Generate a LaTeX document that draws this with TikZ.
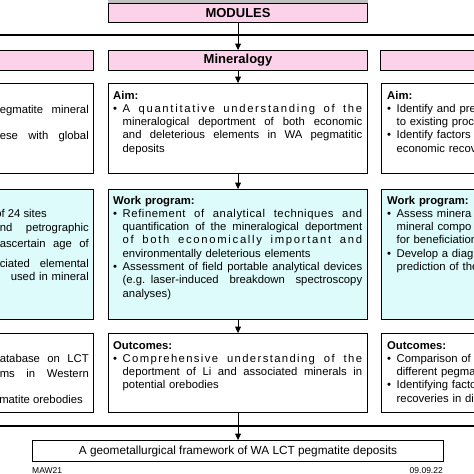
\documentclass[tikz,border=0pt]{standalone}
\usepackage{fontspec}
\setmainfont{Liberation Sans}
\usetikzlibrary{arrows.meta}
\definecolor{pinkfill}{RGB}{251,210,234}
\definecolor{cyanfill}{RGB}{221,251,251}
\definecolor{topgrey}{RGB}{192,192,192}
\setlength{\parindent}{0pt}
\newcommand\stretchspace{\spaceskip=0.278em plus 3em minus 0.05em\relax}
\newcommand\bitem[1]{\par\noindent\hangindent=9.5pt\hangafter=1\makebox[9.5pt][l]{\textbullet}#1}
\newcommand\sfrag[2]{{\stretchspace\hbox to #1pt{#2}}}
\newcommand\mbul[1]{\noindent\hbox to 9.5pt{\textbullet\hfil}{\stretchspace\hbox to 239.5pt{#1}}\par}
\newcommand\mjus[1]{\noindent\hbox to 9.5pt{\hfil}{\stretchspace\hbox to 239.5pt{#1}}\par}
\newcommand\mlast[1]{\noindent\hbox to 9.5pt{\hfil}#1\par}
\newcommand\spreadout[2]{{\addfontfeature{LetterSpace=#1}#2}}
\begin{document}
\begin{tikzpicture}[x=1pt,y=-1pt,
  box/.style={draw=black, line width=1.1pt, inner sep=0pt, anchor=north west},
  pinkbox/.style={box, fill=pinkfill, font=\fontsize{13}{15}\selectfont\bfseries},
  whitebox/.style={box, fill=white},
  cyanbox/.style={box, fill=cyanfill},
  arr/.style={line width=1.1pt, -{Triangle[length=6.5pt,width=6pt]}},
  rule/.style={line width=1.1pt},
  txt/.style={inner sep=0pt, font=\fontsize{11.3}{13.3}\selectfont, anchor=base west},
  midtxt/.style={txt, text width=249pt},
  sidetxt/.style={txt, text width=130pt, align=left},
  frag/.style={inner sep=0pt, font=\fontsize{11.3}{13.3}\selectfont, anchor=base east},
  small/.style={inner sep=0pt, font=\fontsize{8.5}{10}\selectfont}]
\useasboundingbox (0,0) rectangle (474,474);
\clip (0,0) rectangle (474,474);
\fill[topgrey] (107.5,-4) rectangle (367.5,3);
% horizontal rules
\coordinate (hl1) at (0,35);
\coordinate (hr1) at (474,35);
\coordinate (hl2) at (0,426);
\coordinate (hr2) at (474,426);
\draw[rule] (hl1) -- (hr1);
\draw[rule] (hl2) -- (hr2);
% boxes
\node[pinkbox, minimum width=259pt, minimum height=19pt] (modules) at (108,3) {MODULES};
\node[pinkbox, minimum width=103pt, minimum height=20pt] (pinkL) at (-10,50) {};
\node[pinkbox, minimum width=259pt, minimum height=20pt] (mineralogy) at (108,50) {Mineralogy};
\node[pinkbox, minimum width=110pt, minimum height=20pt] (pinkR) at (380,50) {};
\node[whitebox, minimum width=103pt, minimum height=90pt] (aimL) at (-10,83) {};
\node[whitebox, minimum width=259pt, minimum height=90pt] (aimM) at (108,83) {};
\node[whitebox, minimum width=110pt, minimum height=90pt] (aimR) at (381,83) {};
\node[cyanbox, minimum width=103pt, minimum height=130pt] (workL) at (-10,189) {};
\node[cyanbox, minimum width=259pt, minimum height=130pt] (workM) at (108,189) {};
\node[cyanbox, minimum width=110pt, minimum height=130pt] (workR) at (381,189) {};
\node[whitebox, minimum width=103pt, minimum height=79pt] (outL) at (-10,333) {};
\node[whitebox, minimum width=259pt, minimum height=79pt] (outM) at (108,333) {};
\node[whitebox, minimum width=110pt, minimum height=79pt] (outR) at (381,333) {};
\node[whitebox, minimum width=411pt, minimum height=21pt, font=\fontsize{11.8}{14}\selectfont] (frame) at (32,440) {A geometallurgical framework of WA LCT pegmatite deposits};
% arrows
\draw[arr] (modules.south) -- (mineralogy.north);
\draw[arr] (mineralogy.south) -- (aimM.north);
\draw[arr] (aimM.south) -- (workM.north);
\draw[arr] (workM.south) -- (outM.north);
\draw[arr] (outM.south) -- (frame.north);
% middle column text
\node[midtxt] (aimMtxt) at (113,99) {\noindent\textbf{Aim:}\par
  \mbul{\spreadout{15}{A quantitative understanding of the}}
  \mjus{mineralogical deportment of both economic}
  \mjus{and deleterious elements in WA pegmatitic}
  \mlast{deposits}};
\node[midtxt] (workMtxt) at (113,204) {\noindent\textbf{Work program:}\par
  \mbul{\spreadout{5}{Refinement of analytical techniques and}}
  \mjus{quantification of the mineralogical deportment}
  \mjus{\spreadout{15}{of both economically important and}}
  \mlast{environmentally deleterious elements}
  \mbul{Assessment of field portable analytical devices}
  \mjus{(e.g. laser-induced breakdown spectroscopy}
  \mlast{analyses)}};
\node[midtxt] (outMtxt) at (113,349) {\noindent\textbf{Outcomes:}\par
  \mbul{\spreadout{12}{Comprehensive understanding of the}}
  \mjus{deportment of Li and associated minerals in}
  \mlast{potential orebodies}};
% right column text
\node[sidetxt] (aimRtxt) at (387,99) {\textbf{Aim:}\bitem{Identify and pre\newline to existing proce}\bitem{Identify factors\newline economic recov}\par};
\node[sidetxt] (workRtxt) at (387,204) {\textbf{Work program:}\bitem{Assess minera\newline mineral compo\newline for beneficiation}\bitem{Develop a diag\newline prediction of the}\par};
\node[sidetxt] (outRtxt) at (387,349) {\textbf{Outcomes:}\bitem{Comparison of\newline different pegma}\bitem{Identifying facto\newline recoveries in di}\par};
% left column text fragments
\node[frag] (la1) at (89,113) {\sfrag{89}{egmatite mineral}};
\node[frag] (la2) at (89,139) {\sfrag{89}{ese with global}};
\node[frag] (lw1) at (47,217) {of 24 sites};
\node[frag] (lw2) at (89,231) {\sfrag{89}{nd petrographic}};
\node[frag] (lw3) at (89,247) {\sfrag{89}{ascertain age of}};
\node[frag] (lw4) at (89,267) {\sfrag{89}{ciated elemental}};
\node[frag] (lw5) at (89,280) {\sfrag{78}{used in mineral}};
\node[frag] (lo1) at (89,362) {\sfrag{89}{atabase on LCT}};
\node[frag] (lo2) at (89,377) {\sfrag{89}{ms in Western}};
\node[frag] (lo3) at (83,403) {matite orebodies};
% footer
\node[small, anchor=base west] (maw) at (32,473) {MAW21};
\node[small, anchor=base east] (date) at (443,473) {09.09.22};
\end{tikzpicture}
\end{document}
